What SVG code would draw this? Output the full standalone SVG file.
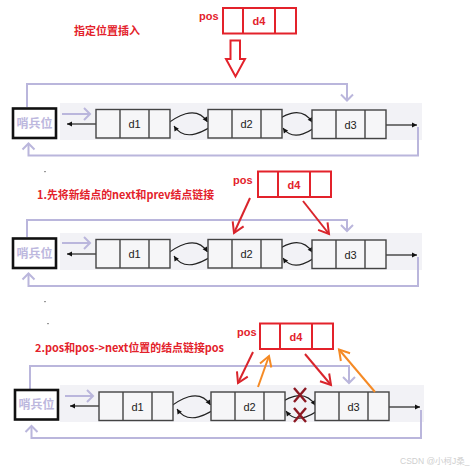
<svg xmlns="http://www.w3.org/2000/svg" width="474" height="471" viewBox="0 0 474 471">
<style>
.bg{fill:#ffffff}
.band{fill:#f2f2f6}
.sent{fill:#ffffff;stroke:#111;stroke-width:2.6}
.senttxt{font-family:"Noto Sans CJK SC","Liberation Sans",sans-serif;font-size:12px;font-weight:bold;fill:#bdb8de;text-anchor:middle}
.cell{fill:#f6f6f8;stroke:#444;stroke-width:1.4}
.div{stroke:#444;stroke-width:1.4}
.ntxt{font-family:"Liberation Sans","Noto Sans CJK SC",sans-serif;font-size:11px;fill:#222;text-anchor:middle}
.lav{fill:none;stroke:#bab6dc;stroke-width:2}
.blk{fill:none;stroke:#222;stroke-width:1.2}
.redbox{fill:#ffffff;stroke:#e3222b;stroke-width:2}
.redtxt{font-family:"Liberation Sans","Noto Sans CJK SC",sans-serif;font-size:11px;font-weight:bold;fill:#e3222b}
.cjk{font-family:"Noto Sans CJK SC","Liberation Sans",sans-serif;font-size:11px;font-weight:bold;fill:#e3222b}
.redarr{fill:none;stroke:#d9252c;stroke-width:2}
.orgarr{fill:none;stroke:#f58a25;stroke-width:2}
.xmark{stroke:#8c1822;stroke-width:2.4;fill:none}
</style>
<defs>
<marker id="mBlk" markerUnits="userSpaceOnUse" markerWidth="8" markerHeight="8" refX="0" refY="0" orient="auto" overflow="visible"><path d="M-5,-2.6 L0,0 L-5,2.6 Z" fill="#111"/></marker>
<marker id="mLav" markerUnits="userSpaceOnUse" markerWidth="12" markerHeight="12" refX="0" refY="0" orient="auto" overflow="visible"><path d="M-6,-6 L0,0 L-6,6" fill="none" stroke="#bab6dc" stroke-width="2"/></marker>
<marker id="mRed" markerUnits="userSpaceOnUse" markerWidth="14" markerHeight="14" refX="0" refY="0" orient="auto" overflow="visible"><path d="M-10,-6 L0,0 L-10,6" fill="none" stroke="#d9252c" stroke-width="2"/></marker>
<marker id="mOrg" markerUnits="userSpaceOnUse" markerWidth="14" markerHeight="14" refX="0" refY="0" orient="auto" overflow="visible"><path d="M-10,-6 L0,0 L-10,6" fill="none" stroke="#f58a25" stroke-width="2"/></marker>
</defs>
<rect class="bg" x="0" y="0" width="474" height="471"/>

<!-- ================= Section 1 ================= -->
<g id="section1">
  <rect class="band" x="60" y="103" width="362" height="37"/>
  <g id="s1-connectors">
    <path class="lav" d="M27,107 V84 H347 V100.5" marker-end="url(#mLav)"/>
    <path class="lav" d="M62,114 H90" marker-end="url(#mLav)"/>
    <path class="lav" d="M418,127 V155.5 H28.5 V143.5" marker-end="url(#mLav)"/>
    <path class="blk" d="M96,124 H67" marker-end="url(#mBlk)"/>
    <path class="blk" d="M386,125 H417" marker-end="url(#mBlk)"/>
    <path class="blk" d="M162,128 C176,116 196,104 207.5,122" marker-end="url(#mBlk)"/>
    <path class="blk" d="M220,120 C205,132 185,143 174,126" marker-end="url(#mBlk)"/>
    <path class="blk" d="M268,127 C282,115 301,104 312.5,122.5" marker-end="url(#mBlk)"/>
    <path class="blk" d="M326,118.5 C311,132 294,143 283,128" marker-end="url(#mBlk)"/>
  </g>
  <g id="s1-sentinel">
    <rect class="sent" x="13" y="108.5" width="43" height="29.5"/>
    <text class="senttxt" x="34.5" y="127.5">哨兵位</text>
  </g>
  <g id="s1-d1">
    <rect class="cell" x="96" y="109.5" width="74" height="28.5"/>
    <line class="div" x1="120" y1="109.5" x2="120" y2="138"/>
    <line class="div" x1="149" y1="109.5" x2="149" y2="138"/>
    <text class="ntxt" x="134.5" y="128">d1</text>
  </g>
  <g id="s1-d2">
    <rect class="cell" x="208" y="109.5" width="74" height="28.5"/>
    <line class="div" x1="232" y1="109.5" x2="232" y2="138"/>
    <line class="div" x1="261" y1="109.5" x2="261" y2="138"/>
    <text class="ntxt" x="246.5" y="128">d2</text>
  </g>
  <g id="s1-d3">
    <rect class="cell" x="312" y="110" width="74" height="28.5"/>
    <line class="div" x1="336" y1="110" x2="336" y2="138.5"/>
    <line class="div" x1="365" y1="110" x2="365" y2="138.5"/>
    <text class="ntxt" x="350.5" y="128.5">d3</text>
  </g>
  <g id="s1-d4">
    <text class="redtxt" x="199" y="20">pos</text>
    <rect class="redbox" x="223" y="8" width="73" height="25.5"/>
    <line class="redbox" x1="243" y1="8" x2="243" y2="33.5"/>
    <line class="redbox" x1="275" y1="8" x2="275" y2="33.5"/>
    <text class="redtxt" x="259" y="25" text-anchor="middle">d4</text>
  </g>
  <text class="cjk" x="74" y="35" textLength="66" lengthAdjust="spacingAndGlyphs">指定位置插入</text>
  <polygon points="230.5,40.5 240,40.5 240,59 245,59 235.5,76.5 226,59 230.5,59" fill="#ffffff" stroke="#e3222b" stroke-width="2"/>
</g>

<!-- ================= Section 2 ================= -->
<rect x="44" y="171" width="2" height="1.2" fill="#999"/>
<rect x="44" y="301" width="2" height="1.2" fill="#999"/>
<g id="section2" transform="translate(0,130)">
  <rect class="band" x="60" y="103" width="362" height="37"/>
  <g id="s2-connectors">
    <path class="lav" d="M27,107 V90 H347 V101" marker-end="url(#mLav)"/>
    <path class="lav" d="M62,113 H90" marker-end="url(#mLav)"/>
    <path class="lav" d="M418,127 V156 H28.5 V143.5" marker-end="url(#mLav)"/>
    <path class="blk" d="M96,124 H67" marker-end="url(#mBlk)"/>
    <path class="blk" d="M386,125 H417" marker-end="url(#mBlk)"/>
    <path class="blk" d="M162,128 C176,116 196,104 207.5,122" marker-end="url(#mBlk)"/>
    <path class="blk" d="M220,120 C205,132 185,143 174,126" marker-end="url(#mBlk)"/>
    <path class="blk" d="M268,127 C282,115 301,104 312.5,122.5" marker-end="url(#mBlk)"/>
    <path class="blk" d="M326,118.5 C311,132 294,143 283,128" marker-end="url(#mBlk)"/>
  </g>
  <g id="s2-sentinel">
    <rect class="sent" x="13" y="108.5" width="43" height="29.5"/>
    <text class="senttxt" x="34.5" y="127.5">哨兵位</text>
  </g>
  <g id="s2-d1">
    <rect class="cell" x="96" y="109.5" width="74" height="28.5"/>
    <line class="div" x1="120" y1="109.5" x2="120" y2="138"/>
    <line class="div" x1="149" y1="109.5" x2="149" y2="138"/>
    <text class="ntxt" x="134.5" y="128">d1</text>
  </g>
  <g id="s2-d2">
    <rect class="cell" x="208" y="109.5" width="74" height="28.5"/>
    <line class="div" x1="232" y1="109.5" x2="232" y2="138"/>
    <line class="div" x1="261" y1="109.5" x2="261" y2="138"/>
    <text class="ntxt" x="246.5" y="128">d2</text>
  </g>
  <g id="s2-d3">
    <rect class="cell" x="312" y="110" width="74" height="28.5"/>
    <line class="div" x1="336" y1="110" x2="336" y2="138.5"/>
    <line class="div" x1="365" y1="110" x2="365" y2="138.5"/>
    <text class="ntxt" x="350.5" y="128.5">d3</text>
  </g>
</g>
<g id="s2-d4">
  <text class="redtxt" x="233" y="184">pos</text>
  <rect class="redbox" x="258" y="171.5" width="73" height="25.5"/>
  <line class="redbox" x1="278" y1="171.5" x2="278" y2="197"/>
  <line class="redbox" x1="310" y1="171.5" x2="310" y2="197"/>
  <text class="redtxt" x="294" y="188.5" text-anchor="middle">d4</text>
</g>
<text class="cjk" x="37" y="199" textLength="177" lengthAdjust="spacingAndGlyphs">1.先将新结点的next和prev结点链接</text>
<g id="s2-arrows">
  <path class="redarr" d="M250,198 L234,233" marker-end="url(#mRed)"/>
  <path class="redarr" d="M303,201 L329,234" marker-end="url(#mRed)"/>
</g>

<!-- ================= Section 3 ================= -->
<rect x="47" y="323" width="2" height="1.2" fill="#999"/>
<g id="section3" transform="translate(3,283)">
  <rect class="band" x="57" y="102" width="364" height="37"/>
  <g id="s3-connectors">
    <path class="lav" d="M27,107 V83 H346 V100" marker-end="url(#mLav)"/>
    <path class="lav" d="M62,113 H90" marker-end="url(#mLav)"/>
    <path class="lav" d="M418,127 V155 H28.5 V143" marker-end="url(#mLav)"/>
    <path class="blk" d="M96,123 H67" marker-end="url(#mBlk)"/>
    <path class="blk" d="M386,124 H417" marker-end="url(#mBlk)"/>
    <path class="blk" d="M162,128 C176,116 196,104 207.5,122" marker-end="url(#mBlk)"/>
    <path class="blk" d="M220,120 C205,132 185,143 174,126" marker-end="url(#mBlk)"/>
    <path class="blk" d="M268,127 C282,115 301,104 312.5,122.5" marker-end="url(#mBlk)"/>
    <path class="blk" d="M326,118.5 C311,132 294,143 283,128" marker-end="url(#mBlk)"/>
  </g>
  <g id="s3-sentinel">
    <rect class="sent" x="12" y="107" width="43" height="29.5"/>
    <text class="senttxt" x="33.5" y="126">哨兵位</text>
  </g>
  <g id="s3-d1">
    <rect class="cell" x="96" y="109" width="74" height="28.5"/>
    <line class="div" x1="120" y1="109" x2="120" y2="137.5"/>
    <line class="div" x1="149" y1="109" x2="149" y2="137.5"/>
    <text class="ntxt" x="134.5" y="127.5">d1</text>
  </g>
  <g id="s3-d2">
    <rect class="cell" x="208" y="109" width="74" height="28.5"/>
    <line class="div" x1="232" y1="109" x2="232" y2="137.5"/>
    <line class="div" x1="261" y1="109" x2="261" y2="137.5"/>
    <text class="ntxt" x="246.5" y="127.5">d2</text>
  </g>
  <g id="s3-d3">
    <rect class="cell" x="312" y="109" width="74" height="28.5"/>
    <line class="div" x1="336" y1="109" x2="336" y2="137.5"/>
    <line class="div" x1="365" y1="109" x2="365" y2="137.5"/>
    <text class="ntxt" x="350.5" y="127.5">d3</text>
  </g>
</g>
<g id="s3-d4">
  <text class="redtxt" x="237" y="336">pos</text>
  <rect class="redbox" x="260" y="323.5" width="73" height="25.5"/>
  <line class="redbox" x1="280" y1="323.5" x2="280" y2="349"/>
  <line class="redbox" x1="312" y1="323.5" x2="312" y2="349"/>
  <text class="redtxt" x="296" y="340.5" text-anchor="middle">d4</text>
</g>
<text class="cjk" x="35" y="352" textLength="189" lengthAdjust="spacingAndGlyphs">2.pos和pos-&gt;next位置的结点链接pos</text>
<g id="s3-arrows">
  <path class="redarr" d="M253,352 L238,383" marker-end="url(#mRed)"/>
  <path class="orgarr" d="M258,387 L269,356" marker-end="url(#mOrg)"/>
  <path class="redarr" d="M305,354 L331,385" marker-end="url(#mRed)"/>
  <path class="orgarr" d="M375,392 L339,349.5" marker-end="url(#mOrg)"/>
  <path class="xmark" d="M294,388 L306,402 M306,388 L294,402"/>
  <path class="xmark" d="M294,408 L306,422 M306,408 L294,422"/>
</g>
<text x="400" y="464" font-family="Liberation Sans,'Noto Sans CJK SC',sans-serif" font-size="8.5" fill="#cfcfcf">CSDN @小柯J桑_</text>
</svg>
